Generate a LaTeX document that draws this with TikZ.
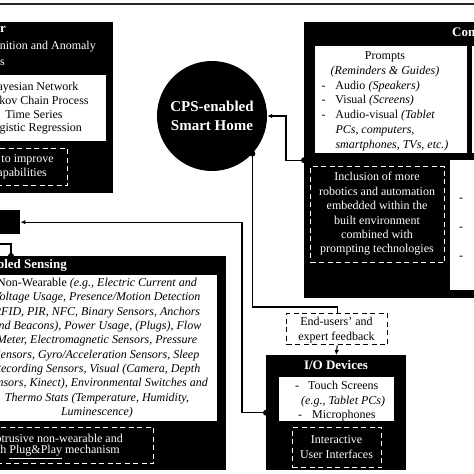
\documentclass[tikz,border=0pt]{standalone}
\usepackage{fontspec}
\setmainfont{Liberation Serif}
\usetikzlibrary{arrows.meta,calc}
\tikzset{
 blackbox/.style={fill=black, draw=none, inner sep=0pt, anchor=north west},
 whitebox/.style={fill=white, draw=none, inner sep=0pt, anchor=north west},
 wdash/.style={draw=white, line width=1.4pt, dash pattern=on 5pt off 3.5pt, inner sep=0pt, anchor=north west},
 bdash/.style={draw=black, fill=white, line width=1.4pt, dash pattern=on 5pt off 3.5pt, inner sep=0pt, anchor=north west},
 body/.style={font=\fontsize{12}{14.4}\selectfont, align=center, inner sep=0pt},
 wtext/.style={body, text=white},
 head/.style={font=\fontsize{13}{15}\selectfont\bfseries, text=white, inner sep=0pt},
 conn/.style={draw=black, line width=1.1pt},
 arr/.style={conn, -{Latex[length=5pt,width=4.5pt]}},
}
\begin{document}
\begin{tikzpicture}[x=1pt,y=-1pt]
\useasboundingbox (0,0) rectangle (474,474);
\clip (0,0) rectangle (474,474);
\fill[white] (0,0) rectangle (474,474);
\draw[line width=1.6pt, black!85] (-5,4) -- (480,4);

% left top box
\node[blackbox, minimum width=173pt, minimum height=171pt] (ml) at (-60,22) {};
\node[head, anchor=east] (mlt1) at (6,29) {Analytics Layer};
\node[wtext, anchor=east] (mlt2) at (96,47) {(Activity Recognition and Anomaly};
\node[wtext, anchor=east] (mlt3) at (5,62) {Detections};
\node[whitebox, minimum width=146pt, minimum height=66pt] (mlw) at (-40,75) {};
\node[body, font=\fontsize{12}{13.7}\selectfont] (mlwt) at (34,108.5) {Bayesian Network\\Markov Chain Process\\Time Series\\Logistic Regression};
\node[wdash, minimum width=147pt, minimum height=37pt] (mld) at (-80,148) {};
\node[wtext, anchor=east] (mld1) at (54,160) {Machine learning to improve};
\node[wtext, anchor=east] (mld2) at (47,174) {recognition capabilities};

% small box
\node[blackbox, minimum width=30pt, minimum height=24pt] (sm) at (-10,210) {};

% circle
\node[circle, fill=black, minimum size=110pt, inner sep=0pt, text=white, align=center,
      font=\fontsize{15}{19}\selectfont\bfseries] (home) at (212,116) {CPS-enabled\\Smart Home};

% communication box
\node[blackbox, minimum width=226pt, minimum height=276pt] (com) at (304,22) {};
\node[head, anchor=west] (comt) at (452,32) {Communication};
\node[whitebox, minimum width=152pt, minimum height=107pt] (prw) at (315,46) {};
\node[inner sep=0pt, font=\fontsize{12}{14.7}\selectfont] (prt) at (385,101) {%
\begin{tabular}{@{}p{14pt}@{}l@{}}
\multicolumn{2}{@{}c@{}}{Prompts}\\
\multicolumn{2}{@{}c@{}}{\textit{(Reminders \& Guides)}}\\
- & Audio \textit{(Speakers)}\\
- & Visual \textit{(Screens)}\\
- & Audio-visual \textit{(Tablet}\\
 & \textit{PCs, computers,}\\
 & \textit{smartphones, TVs, etc.)}
\end{tabular}};
\node[whitebox, minimum width=58pt, minimum height=107pt] (rw1) at (472,46) {};
\node[whitebox, minimum width=80pt, minimum height=130pt] (rw2) at (450,160) {};
\node[body] (rd1) at (461,200) {-};
\node[body] (rd2) at (461,229) {-};
\node[body] (rd3) at (461,258) {-};
\node[wdash, minimum width=134pt, minimum height=96pt] (robd) at (310,166) {};
\node[wtext] (robt) at (377,214) {Inclusion of more\\robotics and automation\\embedded within the\\built environment\\combined with\\prompting technologies};

% sensing box
\node[blackbox, minimum width=266pt, minimum height=214pt] (sens) at (-40,256) {};
\node[head, anchor=east] (senst) at (67,265) {IoT-enabled Sensing};
\node[whitebox, minimum width=257pt, minimum height=146pt] (sensw) at (-40,275) {};
\node[body, font=\fontsize{12}{14.33}\selectfont] (senstx) at (97,348) {Non-Wearable \textit{(e.g., Electric Current and}\\
\textit{Voltage Usage, Presence/Motion Detection}\\
\textit{RFID, PIR, NFC, Binary Sensors, Anchors}\\
\textit{and Beacons), Power Usage, (Plugs), Flow}\\
\textit{Meter, Electromagnetic Sensors, Pressure}\\
\textit{Sensors, Gyro/Acceleration Sensors, Sleep}\\
\textit{Recording Sensors, Visual (Camera, Depth}\\
\textit{Sensors, Kinect), Environmental Switches and}\\
\textit{Thermo Stats (Temperature, Humidity,}\\
\textit{Luminescence)}};
\node[wdash, minimum width=233pt, minimum height=36pt] (unob) at (-80,427) {};
\node[wtext, anchor=east] (unob1) at (123,438) {Unobtrusive non-wearable and};
\node[wtext, anchor=east] (unob2) at (120,452) {with \underline{Plug\&Play} mechanism};

% feedback
\node[bdash, minimum width=101pt, minimum height=31pt] (fb) at (286,313) {};
\node[body] (fbt) at (336.5,330) {End-users’ and\\expert feedback};

% I/O devices
\node[blackbox, minimum width=140pt, minimum height=115pt] (io) at (266,355) {};
\node[head] (iot) at (336,365) {I/O Devices};
\node[whitebox, minimum width=115pt, minimum height=44pt] (iow) at (279,377) {};
\node[body, anchor=base west] (io1a) at (295,389) {-};
\node[body, anchor=base west] (io1b) at (308,389) {Touch Screens};
\node[body, anchor=base west] (io2) at (301,404) {\textit{(e.g., Tablet PCs)}};
\node[body, anchor=base west] (io3a) at (298,418) {-};
\node[body, anchor=base west] (io3b) at (312,418) {Microphones};
\node[wdash, minimum width=89pt, minimum height=40pt] (iui) at (292,427) {};
\node[wtext] (iuit) at (336.5,447) {Interactive\\User Interfaces};

% connectors
\draw[arr] (com.west) -- ++(-18,0) |- (home.east);
\fill (com.west) circle[radius=3pt];
\draw[conn] (home.-43.5) |- ($(fb.north)+(0,-6)$) -- (fb.north);
\fill (home.-43.5) circle[radius=3pt];
\draw[arr] (fb.south) -- (io.north);
\draw[arr] (io.west) -- ++(-24,0) |- (sm.east);
\fill (io.west) circle[radius=3pt];
\path (sens.north west) ++(51,0) coordinate (sdot);
\coordinate (sfree) at (-3,244);
\draw[conn] (sdot) |- (sfree);
\fill (sdot) circle[radius=3pt];
\end{tikzpicture}
\end{document}
